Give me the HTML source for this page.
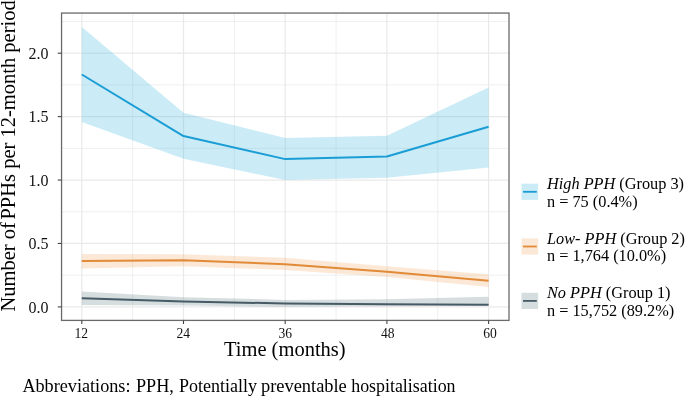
<!DOCTYPE html>
<html lang="en"><head><meta charset="utf-8"><title>PPH trajectories</title>
<style>html,body{margin:0;padding:0;background:#fff}body{width:685px;height:397px;overflow:hidden}</style></head>
<body>
<svg width="685" height="397" viewBox="0 0 685 397" style="display:block;font-family:'Liberation Serif',serif">
<rect width="685" height="397" fill="#fff"/>
<line x1="61.55" x2="509.0" y1="275.19" y2="275.19" stroke="#efefef" stroke-width="1"/>
<line x1="61.55" x2="509.0" y1="211.76" y2="211.76" stroke="#efefef" stroke-width="1"/>
<line x1="61.55" x2="509.0" y1="148.34" y2="148.34" stroke="#efefef" stroke-width="1"/>
<line x1="61.55" x2="509.0" y1="84.91" y2="84.91" stroke="#efefef" stroke-width="1"/>
<line x1="61.55" x2="509.0" y1="21.49" y2="21.49" stroke="#efefef" stroke-width="1"/>
<line y1="13.05" y2="320.4" x1="132.65" x2="132.65" stroke="#efefef" stroke-width="1"/>
<line y1="13.05" y2="320.4" x1="234.35" x2="234.35" stroke="#efefef" stroke-width="1"/>
<line y1="13.05" y2="320.4" x1="336.05" x2="336.05" stroke="#efefef" stroke-width="1"/>
<line y1="13.05" y2="320.4" x1="437.75" x2="437.75" stroke="#efefef" stroke-width="1"/>
<line x1="61.55" x2="509.0" y1="306.90" y2="306.90" stroke="#e9e9e9" stroke-width="1.2"/>
<line x1="61.55" x2="509.0" y1="243.47" y2="243.47" stroke="#e9e9e9" stroke-width="1.2"/>
<line x1="61.55" x2="509.0" y1="180.05" y2="180.05" stroke="#e9e9e9" stroke-width="1.2"/>
<line x1="61.55" x2="509.0" y1="116.62" y2="116.62" stroke="#e9e9e9" stroke-width="1.2"/>
<line x1="61.55" x2="509.0" y1="53.20" y2="53.20" stroke="#e9e9e9" stroke-width="1.2"/>
<line y1="13.05" y2="320.4" x1="81.80" x2="81.80" stroke="#e9e9e9" stroke-width="1.2"/>
<line y1="13.05" y2="320.4" x1="183.50" x2="183.50" stroke="#e9e9e9" stroke-width="1.2"/>
<line y1="13.05" y2="320.4" x1="285.20" x2="285.20" stroke="#e9e9e9" stroke-width="1.2"/>
<line y1="13.05" y2="320.4" x1="386.90" x2="386.90" stroke="#e9e9e9" stroke-width="1.2"/>
<line y1="13.05" y2="320.4" x1="488.60" x2="488.60" stroke="#e9e9e9" stroke-width="1.2"/>
<polygon points="81.80,291.55 183.50,297.13 285.20,299.92 386.90,299.16 488.60,296.63 488.60,305.76 386.90,306.14 285.20,306.77 183.50,305.50 81.80,305.00" fill="#768e94" fill-opacity="0.3"/>
<polygon points="81.80,253.88 183.50,254.26 285.20,257.81 386.90,266.31 488.60,274.30 488.60,286.98 386.90,277.09 285.20,269.99 183.50,266.18 81.80,268.46" fill="#f6b27a" fill-opacity="0.3"/>
<polygon points="81.80,26.94 183.50,112.82 285.20,138.06 386.90,135.65 488.60,87.45 488.60,167.49 386.90,177.64 285.20,180.05 183.50,158.74 81.80,122.08" fill="#52c0e4" fill-opacity="0.3"/>
<polyline points="81.80,298.27 183.50,301.45 285.20,303.48 386.90,304.36 488.60,304.81" fill="none" stroke="#465b66" stroke-width="2" stroke-linejoin="round"/>
<polyline points="81.80,261.11 183.50,260.22 285.20,264.15 386.90,271.76 488.60,280.77" fill="none" stroke="#e18a38" stroke-width="2" stroke-linejoin="round"/>
<polyline points="81.80,74.51 183.50,136.03 285.20,159.12 386.90,156.58 488.60,126.77" fill="none" stroke="#1a9dd4" stroke-width="2" stroke-linejoin="round"/>
<rect x="61.55" y="13.05" width="447.45" height="307.34999999999997" fill="none" stroke="#6a6a6a" stroke-width="1.3"/>
<line x1="57.75" x2="61.55" y1="306.90" y2="306.90" stroke="#444" stroke-width="1.1"/>
<text x="48.4" y="312.60" font-size="16" text-anchor="end" fill="#111">0.0</text>
<line x1="57.75" x2="61.55" y1="243.47" y2="243.47" stroke="#444" stroke-width="1.1"/>
<text x="48.4" y="249.17" font-size="16" text-anchor="end" fill="#111">0.5</text>
<line x1="57.75" x2="61.55" y1="180.05" y2="180.05" stroke="#444" stroke-width="1.1"/>
<text x="48.4" y="185.75" font-size="16" text-anchor="end" fill="#111">1.0</text>
<line x1="57.75" x2="61.55" y1="116.62" y2="116.62" stroke="#444" stroke-width="1.1"/>
<text x="48.4" y="122.33" font-size="16" text-anchor="end" fill="#111">1.5</text>
<line x1="57.75" x2="61.55" y1="53.20" y2="53.20" stroke="#444" stroke-width="1.1"/>
<text x="48.4" y="58.90" font-size="16" text-anchor="end" fill="#111">2.0</text>
<line y1="320.4" y2="324.0" x1="81.80" x2="81.80" stroke="#444" stroke-width="1.1"/>
<text x="81.20" y="337.6" font-size="13.6" text-anchor="middle" fill="#111">12</text>
<line y1="320.4" y2="324.0" x1="183.50" x2="183.50" stroke="#444" stroke-width="1.1"/>
<text x="183.30" y="337.6" font-size="13.6" text-anchor="middle" fill="#111">24</text>
<line y1="320.4" y2="324.0" x1="285.20" x2="285.20" stroke="#444" stroke-width="1.1"/>
<text x="285.30" y="337.6" font-size="13.6" text-anchor="middle" fill="#111">36</text>
<line y1="320.4" y2="324.0" x1="386.90" x2="386.90" stroke="#444" stroke-width="1.1"/>
<text x="387.70" y="337.6" font-size="13.6" text-anchor="middle" fill="#111">48</text>
<line y1="320.4" y2="324.0" x1="488.60" x2="488.60" stroke="#444" stroke-width="1.1"/>
<text x="490.10" y="337.6" font-size="13.6" text-anchor="middle" fill="#111">60</text>
<text x="284.8" y="356.4" font-size="20.5" text-anchor="middle" fill="#000">Time (months)</text>
<text transform="translate(15.1,311.6) rotate(-90)" font-size="20.5" text-anchor="start" fill="#000">Number of</text>
<text transform="translate(15.1,0.3) rotate(-90)" font-size="20.5" text-anchor="end" fill="#000">PPHs per 12-month period</text>
<text x="22.4" y="391.7" font-size="18.2" fill="#000">Abbreviations:</text>
<text x="136.0" y="391.7" font-size="18.2" fill="#000">PPH,</text>
<text x="179.0" y="391.7" font-size="18.0" fill="#000">Potentially</text>
<text x="261.0" y="391.7" font-size="18.4" fill="#000">preventable</text>
<text x="351.2" y="391.7" font-size="17.9" fill="#000">hospitalisation</text>
<rect x="521.5" y="183.70" width="16.6" height="16.2" fill="#52c0e4" fill-opacity="0.3"/>
<line x1="523" x2="536.8" y1="191.8" y2="191.8" stroke="#1a9dd4" stroke-width="1.8"/>
<text x="547" y="188.90" font-size="16.3" fill="#000"><tspan font-style="italic">High PPH</tspan> (Group 3)</text>
<text x="547" y="206.50" font-size="16.3" fill="#000">n = 75 (0.4%)</text>
<rect x="521.5" y="238.40" width="16.6" height="16.2" fill="#f6b27a" fill-opacity="0.3"/>
<line x1="523" x2="536.8" y1="246.5" y2="246.5" stroke="#e18a38" stroke-width="1.8"/>
<text x="547" y="243.60" font-size="16.3" fill="#000"><tspan font-style="italic">Low- PPH</tspan> (Group 2)</text>
<text x="547" y="261.20" font-size="16.3" fill="#000">n = 1,764 (10.0%)</text>
<rect x="521.5" y="292.80" width="16.6" height="16.2" fill="#768e94" fill-opacity="0.3"/>
<line x1="523" x2="536.8" y1="300.9" y2="300.9" stroke="#465b66" stroke-width="1.8"/>
<text x="547" y="298.00" font-size="16.3" fill="#000"><tspan font-style="italic">No PPH</tspan> (Group 1)</text>
<text x="547" y="315.60" font-size="16.3" fill="#000">n = 15,752 (89.2%)</text>
</svg>
</body></html>
